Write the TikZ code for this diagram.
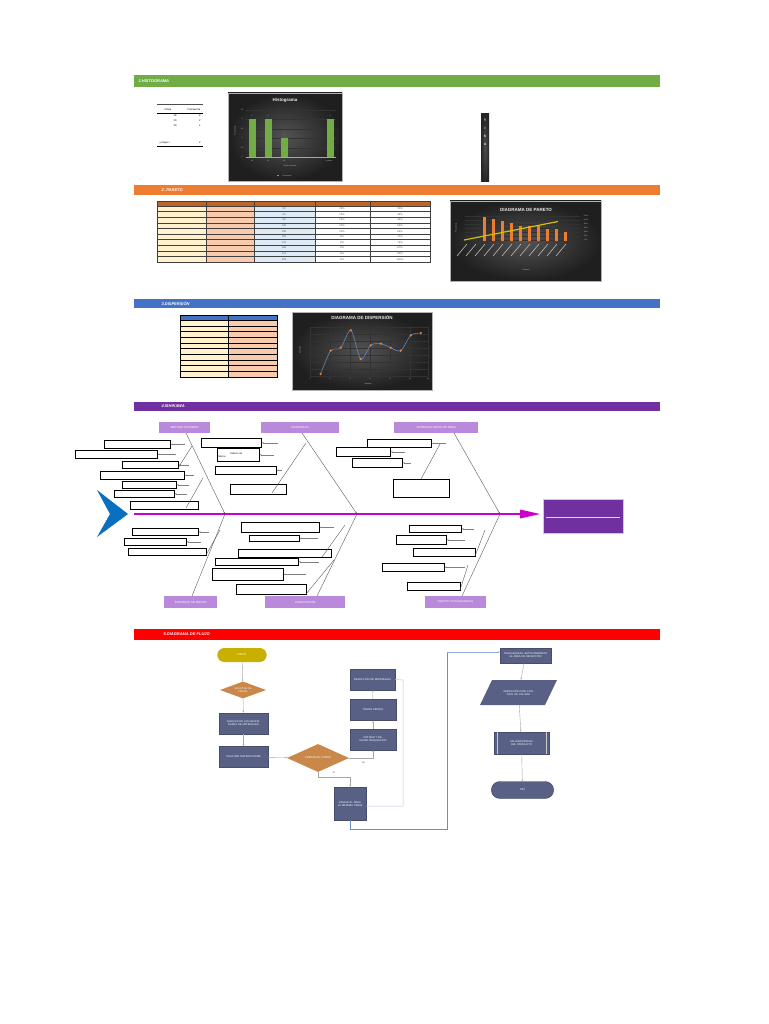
\documentclass[tikz,border=0pt]{standalone}
\usepackage{fontspec}
\setmainfont{Liberation Sans}
\usetikzlibrary{shapes.geometric,shapes.misc,arrows.meta}
\definecolor{hgreen}{HTML}{70AD47}
\definecolor{horange}{HTML}{ED7D31}
\definecolor{hblue}{HTML}{4472C4}
\definecolor{hpurple}{HTML}{7030A0}
\definecolor{lpurple}{HTML}{B98ADB}
\definecolor{slate}{HTML}{596085}
\definecolor{ochre}{HTML}{C9AF00}
\definecolor{brownor}{HTML}{C9874A}
\definecolor{cream}{HTML}{FFF2CC}
\definecolor{peach}{HTML}{F8CBAD}
\definecolor{lblue}{HTML}{DEEBF7}
\definecolor{magenta2}{HTML}{CC00CC}
\definecolor{tailblue}{HTML}{0B6FC0}
\tikzset{
 tiny/.style={font=\fontsize{2.6}{3}\selectfont},
 hdr/.style={tiny,text=white,font=\fontsize{4}{5}\selectfont\bfseries\itshape,anchor=west},
 cat/.style={fill=lpurple,text=white,font=\fontsize{2.8}{3}\selectfont,inner sep=0pt,anchor=north west},
 cbox/.style={draw=black,line width=0.7pt,fill=white,inner sep=0pt,anchor=north west},
 bone/.style={draw=gray!60!black,line width=0.35pt},
 sarr/.style={draw=gray,line width=0.3pt,-{Stealth[length=2pt]}},
 fbox/.style={fill=slate,draw=slate!80!black,text=white,font=\fontsize{2.6}{3}\selectfont,align=center,inner sep=1pt,minimum width=49pt,minimum height=21pt,text width=40pt},
 farr/.style={draw=gray!70,line width=0.4pt,-{Stealth[length=2pt]}},
 chart/.style={draw=gray!60,line width=0.4pt,inner color=gray!65!black,outer color=black!88},
 ctitle/.style={text=gray!15,font=\fontsize{4.5}{5}\selectfont\bfseries},
 ax/.style={text=gray!50,font=\fontsize{1.8}{2}\selectfont}
}
\begin{document}
\begin{tikzpicture}[x=1pt,y=-1pt]
\useasboundingbox[fill=white] (0,0) rectangle (768,1024);
% ===== headers
\fill[hgreen] (134,75) rectangle (660,87);
\node[hdr] (h1) at (135,81) {1.HISTOGRAMA};
\fill[horange] (134,185) rectangle (660,195);
\node[hdr] (h2) at (158,190) {2. PARETO};
\fill[hblue] (134,299) rectangle (660,308);
\node[hdr] (h3) at (158,303.5) {3.DISPERSIÓN};
\fill[hpurple] (134,402) rectangle (660,411);
\node[hdr] (h4) at (158,406.5) {4.ISHIKAWA};
\fill[red] (134,629) rectangle (660,640);
\node[hdr] (h5) at (160,634.5) {5.DIAGRAMA DE FLUJO};
% ===== histogram table
\draw[gray!60!black,line width=1pt] (157,105) -- (203,105);
\node[tiny] at (168,110) {Clase};
\node[tiny] at (194,110) {Frecuencia};
\draw[line width=0.5pt] (157,113) -- (203,113);
\foreach \y/\c/\f in {116/18/2,121/20/2,126/29/1}{
 \node[tiny,anchor=east] at (180,\y) {\c};
 \node[tiny,anchor=east] at (204,\y) {\f};}
\node[tiny,anchor=west] at (156,143) {y mayor\ldots};
\node[tiny,anchor=east] at (204,143) {2};
\draw[line width=0.6pt] (157,146) -- (203,146);
% histogram chart
\shade[chart] (228,93) rectangle (342,181);
\node[ctitle] at (285,100) {Histograma};
\foreach \y in {110,119,129,138,148}{\draw[gray!40!black,line width=0.2pt] (246,\y) -- (336,\y);}
\draw[gray!70,line width=0.3pt] (246,157) -- (336,157);
\foreach \y/\l in {110/2.5,119/2,129/1.5,138/1,148/0.5,157/0}{\node[ax] at (242,\y) {\l};}
\foreach \x/\t/\l in {252/119/2,268/119/2,284/138/1,330/119/2}{
 \fill[hgreen] (\x-3.5,\t) rectangle (\x+3.5,157);
 \node[ax] at (\x,\t-3) {\l};}
\foreach \x/\l in {252/18,268/20,284/29}{\node[ax] at (\x,161) {\l};}
\node[ax] (ym) at (330,161) {y mayor\ldots};
\node[ax] at (290,166) {Clase ordenada};
\node[ax,rotate=90] at (235,131) {Frecuencia};
\fill[hgreen] (277,175) rectangle (278.5,176.5);
\node[ax,anchor=west] at (279,175.8) {Frecuencia};
% vertical strip
\shade[inner color=gray!60!black,outer color=black!85] (481,114) rectangle (489,182);
\foreach \y/\l in {120/T,128/I,136/S,144/U}{\node[text=white,font=\fontsize{3.2}{3}\selectfont\bfseries] at (485,\y) {\l};}
% ===== pareto table
\fill[horange!80!black] (157,201) rectangle (430,206);
\foreach \i in {0,...,9}{
 \pgfmathsetmacro{\ya}{206+\i*5.6}\pgfmathsetmacro{\yb}{\ya+5.6}
 \fill[cream] (157,\ya) rectangle (206,\yb);
 \fill[peach] (206,\ya) rectangle (254,\yb);
 \fill[lblue] (254,\ya) rectangle (315,\yb);}
\foreach \i/\a/\b/\c in {0/33/15\%/15\%,1/66/15\%/30\%,2/99/13\%/43\%,3/132/10\%/53\%,4/158/10\%/63\%,5/158/9\%/70\%,6/178/9\%/79\%,7/196/8\%/87\%,8/213/8\%/95\%,9/229/5\%/100\%}{
 \pgfmathsetmacro{\ym}{206+\i*5.6+2.8}
 \node[tiny,text=gray!70!black] at (284,\ym) {\a};
 \node[tiny,text=gray!70!black] at (342,\ym) {\b};
 \node[tiny,text=gray!70!black] at (400,\ym) {\c};}
\foreach \i in {0,...,10}{\draw[black!75,line width=0.45pt] (157,206+\i*5.6) -- (430,206+\i*5.6);}
\foreach \x in {157,206,254,315,370,430}{\draw[black!75,line width=0.6pt] (\x,201) -- (\x,262);}
\draw[black!75,line width=0.6pt] (157,201) rectangle (430,262);
% pareto chart
\shade[chart] (450,201) rectangle (601,281);
\node[ctitle] at (526,210) {DIAGRAMA DE PARETO};
\foreach \y in {216,220,224,228,232,236,240}{\draw[gray!40!black,line width=0.2pt] (465,\y) -- (580,\y);}
\foreach \x/\t in {484/217,493/219,502/221,511/223,520/226,529/226,538/226,547/229,556/229,565/232}{
 \fill[horange] (\x-1.5,\t) rectangle (\x+1.5,241);}
\draw[ochre!80!yellow,line width=1.2pt] (464,240) -- (558,221.5);
\foreach \y/\l in {216/120\%,220/100\%,224/80\%,228/60\%,232/40\%,236/20\%,240/0\%}{\node[ax] at (586,\y) {\l};}
\node[ax,rotate=90] at (456,228) {Frecuencia};
\foreach \x in {467,476,485,494,503,512,521,530,539,548,557,566}{\draw[gray!55,line width=0.6pt] (\x,244) -- (\x-10,256);}
\node[ax] at (526,270) {Defectos};
% ===== dispersion table
\fill[hblue] (180,315) rectangle (277,320);
\fill[cream] (180,320) rectangle (228,377);
\fill[peach] (228,320) rectangle (277,377);
\foreach \i in {1,...,9}{\draw[black,line width=0.4pt] (180,320+\i*5.7) -- (277,320+\i*5.7);}
\draw[black,line width=0.6pt] (180,315) rectangle (277,377) (228,315) -- (228,377) (180,320) -- (277,320);
% dispersion chart
\shade[chart] (292,312) rectangle (432,390);
\node[ctitle] at (362,318) {DIAGRAMA DE DISPERSIÓN};
\foreach \y in {327,334,341,348,355,362,369,376}{\draw[gray!40!black,line width=0.2pt] (310,\y) -- (428,\y);}
\foreach \x in {310,330,350,370,390,410,428}{\draw[gray!40!black,line width=0.2pt] (\x,327) -- (\x,376);}
\draw[hblue!80,line width=0.5pt] plot[smooth,tension=0.5] coordinates {(320.6,374) (330.7,350.7) (340.8,347.7) (350.9,330.3) (360.7,359) (370.8,345.3) (380.9,343.7) (390.6,347.7) (400.7,350.7) (410.8,335.3) (420.9,333)};
\foreach \x/\y in {320.6/374,330.7/350.7,340.8/347.7,350.9/330.3,360.7/359,370.8/345.3,380.9/343.7,390.6/347.7,400.7/350.7,410.8/335.3,420.9/333}{
 \fill[horange] (\x,\y) circle (1.3);}
\foreach \x/\l in {310/0,330/2,350/4,370/6,390/8,410/10,428/12}{\node[ax] at (\x,379) {\l};}
\node[ax] at (368,384) {Muestra};
\node[ax,rotate=90] at (300,350) {Defectos};
% ===== Ishikawa
\fill[tailblue] (97,490) -- (128,514) -- (97,537) -- (110,514) -- cycle;
\draw[magenta2,line width=2.2pt] (134,514) -- (522,514);
\fill[magenta2] (520,509.5) -- (540,514) -- (520,518.5) -- cycle;
\node[fill=hpurple,draw=gray!40,minimum width=80pt,minimum height=34pt,inner sep=0pt] (effect) at (583,516) {};
\draw[gray!30,line width=0.4pt] (546,517) -- (620,517);
% categories
\node[cat,minimum width=51pt,minimum height=11pt] (c1) at (159,422) {METODO -ENTORNO};
\node[cat,minimum width=78pt,minimum height=11pt] (c2) at (261,422) {MATERIALES};
\node[cat,minimum width=84pt,minimum height=11pt] (c3) at (394,422) {OPERADOR /MANO DE OBRA};
\node[cat,minimum width=53pt,minimum height=12pt] (c4) at (164,596) {ENTREGAS DE PEDIDO};
\node[cat,minimum width=80pt,minimum height=12pt] (c5) at (265,596) {CAPACITACIÓN};
\node[cat,minimum width=61pt,minimum height=12pt] (c6) at (425,596) {EQUIPO Y/O MAQUINARIA};
\coordinate (j1) at (225,514); \coordinate (j2) at (357,514); \coordinate (j3) at (500,514);
\draw[bone,-{Stealth[length=2pt]}] (186,433) -- (j1);
\draw[bone,-{Stealth[length=2pt]}] (302,433) -- (j2);
\draw[bone,-{Stealth[length=2pt]}] (454,433) -- (j3);
\draw[bone] (192,596) -- (j1);
\draw[bone] (317,596) -- (j2);
\draw[bone] (462,596) -- (j3);
% cause boxes: name/x1/y1/x2/y2
\foreach \n/\xa/\ya/\xb/\yb in {
 b1/104/440/170/448, b2/75/450/157/458, b3/122/461/178/468, b4/100/471/184/479,
 b5/122/481/176/488, b6/114/490/174/497, b7/130/501/198/509,
 m1/201/438/261/447, m3/215/466/276/474, m4/230/484/286/494,
 o1/367/439/431/447, o2/336/447/390/456, o3/352/458/402/467, o4/393/479/449/497,
 e1/132/528/198/535, e2/124/538/186/545, e3/128/548/206/555,
 k1/241/522/319/532, k2/249/535/299/541, k3/238/549/331/557, k4/215/558/298/565, k5/212/568/283/580, k6/236/584/306/594,
 q1/409/525/461/532, q2/396/535/446/544, q3/413/548/475/556, q4/382/563/444/571, q5/407/582/460/590}{
 \pgfmathsetmacro{\w}{\xb-\xa}\pgfmathsetmacro{\h}{\yb-\ya}
 \node[cbox,minimum width=\w pt,minimum height=\h pt] (\n) at (\xa,\ya) {};}
\node[cbox,minimum width=42pt,minimum height=13pt,font=\fontsize{2.4}{3}\selectfont,align=left,text width=40pt] (m2) at (217,448) {\hspace{12pt}Defecto de\\fabrica};
% small cause arrows
\foreach \n/\d in {b1/14,b2/18,b3/10,b4/9,b5/12,b6/12,b7/0,m1/16,m2/14,m3/5,m4/0,o1/14,o2/14,o3/8,e1/10,e2/14,e3/0,k1/14,k2/18,k3/0,k4/20,k5/22,k6/0,q1/12,q2/18,q3/0,q4/20,q5/0}{
 \ifnum\d>0 \draw[sarr] ([xshift=\d pt]\n.east) -- (\n.east);\fi}
% sub-bones
\draw[bone] (192,446) -- (178,468);
\draw[bone] (203,478) -- (186,508);
\draw[bone] (306,443) -- (272,493);
\draw[bone] (440,444) -- (421,479);
\draw[bone] (220,530) -- (206,555);
\draw[bone] (345,525) -- (322,557);
\draw[bone] (334,560) -- (306,594);
\draw[bone] (485,530) -- (475,556);
\draw[bone] (468,565) -- (460,590);
% ===== flow chart
\node[rounded rectangle,fill=ochre,text=white,font=\fontsize{2.8}{3}\selectfont,minimum width=56pt,minimum height=14pt] (ini) at (242,655) {INICIO};
\node[diamond,fill=brownor,text=white,font=\fontsize{2.4}{3}\selectfont,align=center,minimum width=46pt,minimum height=17pt,aspect=2.6,inner sep=0pt] (sol) at (243,690) {SOLICITUD DE\\PEDIDO};
\node[fbox] (ana) at (243.5,723.5) {ANALISIS DE LAS NECESIDADES DE MATERIALES};
\node[fbox] (smp) at (243.5,757) {SOLICITAR MATERIA PRIMA};
\node[diamond,fill=brownor,text=white,font=\fontsize{2.8}{3}\selectfont,minimum width=62pt,minimum height=28pt,aspect=2.2,inner sep=0pt] (chk) at (318,758) {CHECAR EL STOCK};
\node[fbox,minimum width=46pt,text width=38pt] (cot) at (373,739.5) {COTIZAR Y REALIZAR REQUISICIÓN};
\node[fbox,minimum width=46pt,text width=38pt] (tom) at (373,710) {TOMAR PEDIDO};
\node[fbox,minimum width=45pt,text width=38pt] (rec) at (372.5,679.5) {RECEPCIÓN DE MATERIALES};
\node[fbox,minimum width=32pt,text width=28pt,minimum height=33pt] (env) at (350,803.5) {ENVIAR AL ÁREA LA MATERIA PRIMA};
\node[fbox,minimum width=51pt,text width=46pt,minimum height=15pt] (tra) at (525.5,655.5) {TRASLADAR EL AUTOCAMIONETA AL ÁREA DE RECEPCIÓN};
\fill[slate] (492,680) -- (557,680) -- (545,705) -- (480,705) -- cycle;
\node[text=white,font=\fontsize{2.6}{3}\selectfont,align=center,text width=46pt,minimum width=62pt,minimum height=25pt,inner sep=0pt] (ins) at (518.5,692.5) {INSPECCIÓN POR CONTROL DE CALIDAD};
\node[fbox,minimum width=55pt,text width=44pt,minimum height=22pt] (sal) at (521.5,743) {SALIDA/ENTREGA DEL PRODUCTO};
\draw[gray!40,line width=0.3pt] ([xshift=3pt]sal.north west) -- ([xshift=3pt]sal.south west) ([xshift=-3pt]sal.north east) -- ([xshift=-3pt]sal.south east);
\node[rounded rectangle,fill=slate,draw=slate!70!black,text=white,font=\fontsize{2.8}{3}\selectfont,minimum width=69pt,minimum height=17pt] (fin) at (522.5,790) {FIN};
\draw[farr] (ini) -- (sol);
\draw[farr] (sol) -- (ana);
\draw[farr] (ana) -- (smp);
\draw[farr] (smp) -- (chk);
\draw[farr] (chk.east) -| node[pos=0.3,below,font=\fontsize{2.2}{2}\selectfont,text=gray!60!black]{NO} (cot.south);
\draw[farr] (cot) -- (tom);
\draw[farr] (tom) -- (rec);
\coordinate (sbend) at (337,777);
\draw[farr] (chk.south) -- (chk.south |- sbend) -- node[above,font=\fontsize{2.2}{2}\selectfont,text=gray!60!black]{SÍ} (env.north |- sbend) -- (env.north);
\coordinate (r1) at (403,806); \coordinate (r2) at (403,680);
\draw[hblue!40,line width=0.5pt] (env.east |- r1) -- (r1) -- (r2) -- (rec.east);
\coordinate (d1) at (350,829); \coordinate (d2) at (447,829); \coordinate (d3) at (447,652);
\draw[hblue!80,line width=0.8pt] (env.south) -- (d1) -- (d2) -- (d3);
\draw[hblue!60,line width=0.5pt,-{Stealth[length=2pt]}] (d3) -- (tra.west |- d3);
\draw[farr] (tra) -- (ins);
\draw[farr] (ins) -- (sal);
\draw[farr] (sal) -- (fin);
\end{tikzpicture}
\end{document}
